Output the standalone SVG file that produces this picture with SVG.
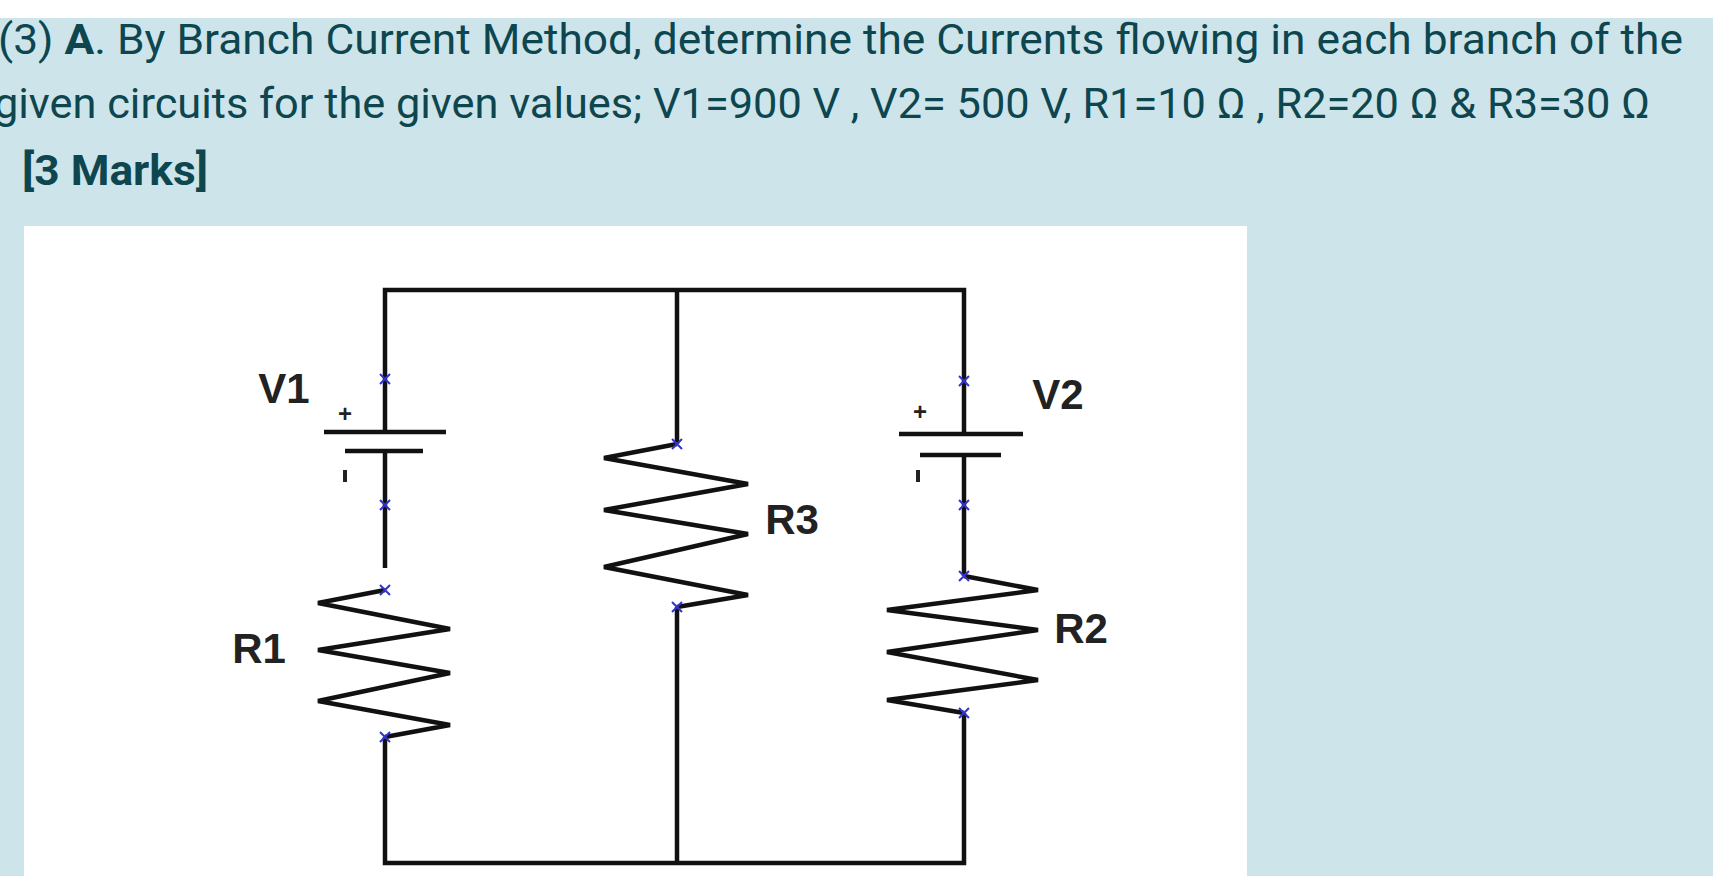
<svg xmlns="http://www.w3.org/2000/svg" width="1713" height="876" viewBox="0 0 1713 876">
<style>
.q{font-family:Roboto,"Liberation Sans",sans-serif;fill:#0e4650;font-size:43px}
.w{fill:none;stroke:#111;stroke-width:4.5;stroke-linejoin:miter}
.lb{font-family:"Liberation Sans",Arial,sans-serif;font-weight:bold;font-size:42px;fill:#222}
.sg{font-family:"Liberation Sans",sans-serif;font-weight:bold;font-size:24px;fill:#222}
.x{stroke:#3333cc;stroke-width:2;fill:none}
</style>
<defs><g id="xm" class="x"><path d="M-5,-5L5,5M5,-5L-5,5"/></g></defs>
<rect width="1713" height="876" fill="#cde5ea"/>
<rect width="1713" height="18" fill="#ffffff"/>
<text class="q" x="-2" y="54" textLength="1685" lengthAdjust="spacingAndGlyphs">(3) <tspan font-weight="bold">A</tspan>.  By Branch Current Method, determine the Currents flowing in each branch of the</text>
<text class="q" x="-6" y="118" textLength="1656" lengthAdjust="spacingAndGlyphs">given circuits for the given values; V1=900 V , V2= 500 V, R1=10 Ω , R2=20 Ω &amp; R3=30 Ω</text>
<text class="q" x="22" y="185" font-weight="bold" textLength="186" lengthAdjust="spacingAndGlyphs">[3 Marks]</text>
<rect x="24" y="226" width="1223" height="650" fill="#ffffff"/>
<g id="connectors">
<path class="w" d="M385,432V290H964V434"/>
<path class="w" d="M677,290V444"/>
<path class="w" d="M677,607V863"/>
<path class="w" d="M385,737V863H964V713"/>
<path class="w" d="M385,451V568"/>
<path class="w" d="M964,455V576"/>
</g>
<g id="V1">
<path class="w" d="M324,432H446M345,451H423"/>
<text class="lb" x="284" y="403" text-anchor="middle">V1</text>
<text class="sg" x="345" y="422" text-anchor="middle">+</text>
<path d="M345,470V482" stroke="#222" stroke-width="4"/>
<use href="#xm" x="385" y="379"/><use href="#xm" x="385" y="505"/>
</g>
<g id="R1">
<path class="w" d="M385,590L318,603L450,629L318,650L450,673L318,701L450,725L385,737"/>
<text class="lb" x="259" y="663" text-anchor="middle">R1</text>
<use href="#xm" x="385" y="590"/><use href="#xm" x="385" y="737"/>
</g>
<g id="R3">
<path class="w" d="M677,444L604,458L748,484L604,510L748,534L604,567L748,595L677,607"/>
<text class="lb" x="792" y="534" text-anchor="middle">R3</text>
<use href="#xm" x="677" y="444"/><use href="#xm" x="677" y="607"/>
</g>
<g id="V2">
<path class="w" d="M899,434H1023M920,455H1001"/>
<text class="lb" x="1058" y="409" text-anchor="middle">V2</text>
<text class="sg" x="920" y="420" text-anchor="middle">+</text>
<path d="M918,470V482" stroke="#222" stroke-width="4"/>
<use href="#xm" x="964" y="381"/><use href="#xm" x="964" y="505"/>
</g>
<g id="R2">
<path class="w" d="M964,576L1038,590L887,610L1038,630L887,652L1038,680L887,700L964,713"/>
<text class="lb" x="1081" y="643" text-anchor="middle">R2</text>
<use href="#xm" x="964" y="576"/><use href="#xm" x="964" y="713"/>
</g>
</svg>
